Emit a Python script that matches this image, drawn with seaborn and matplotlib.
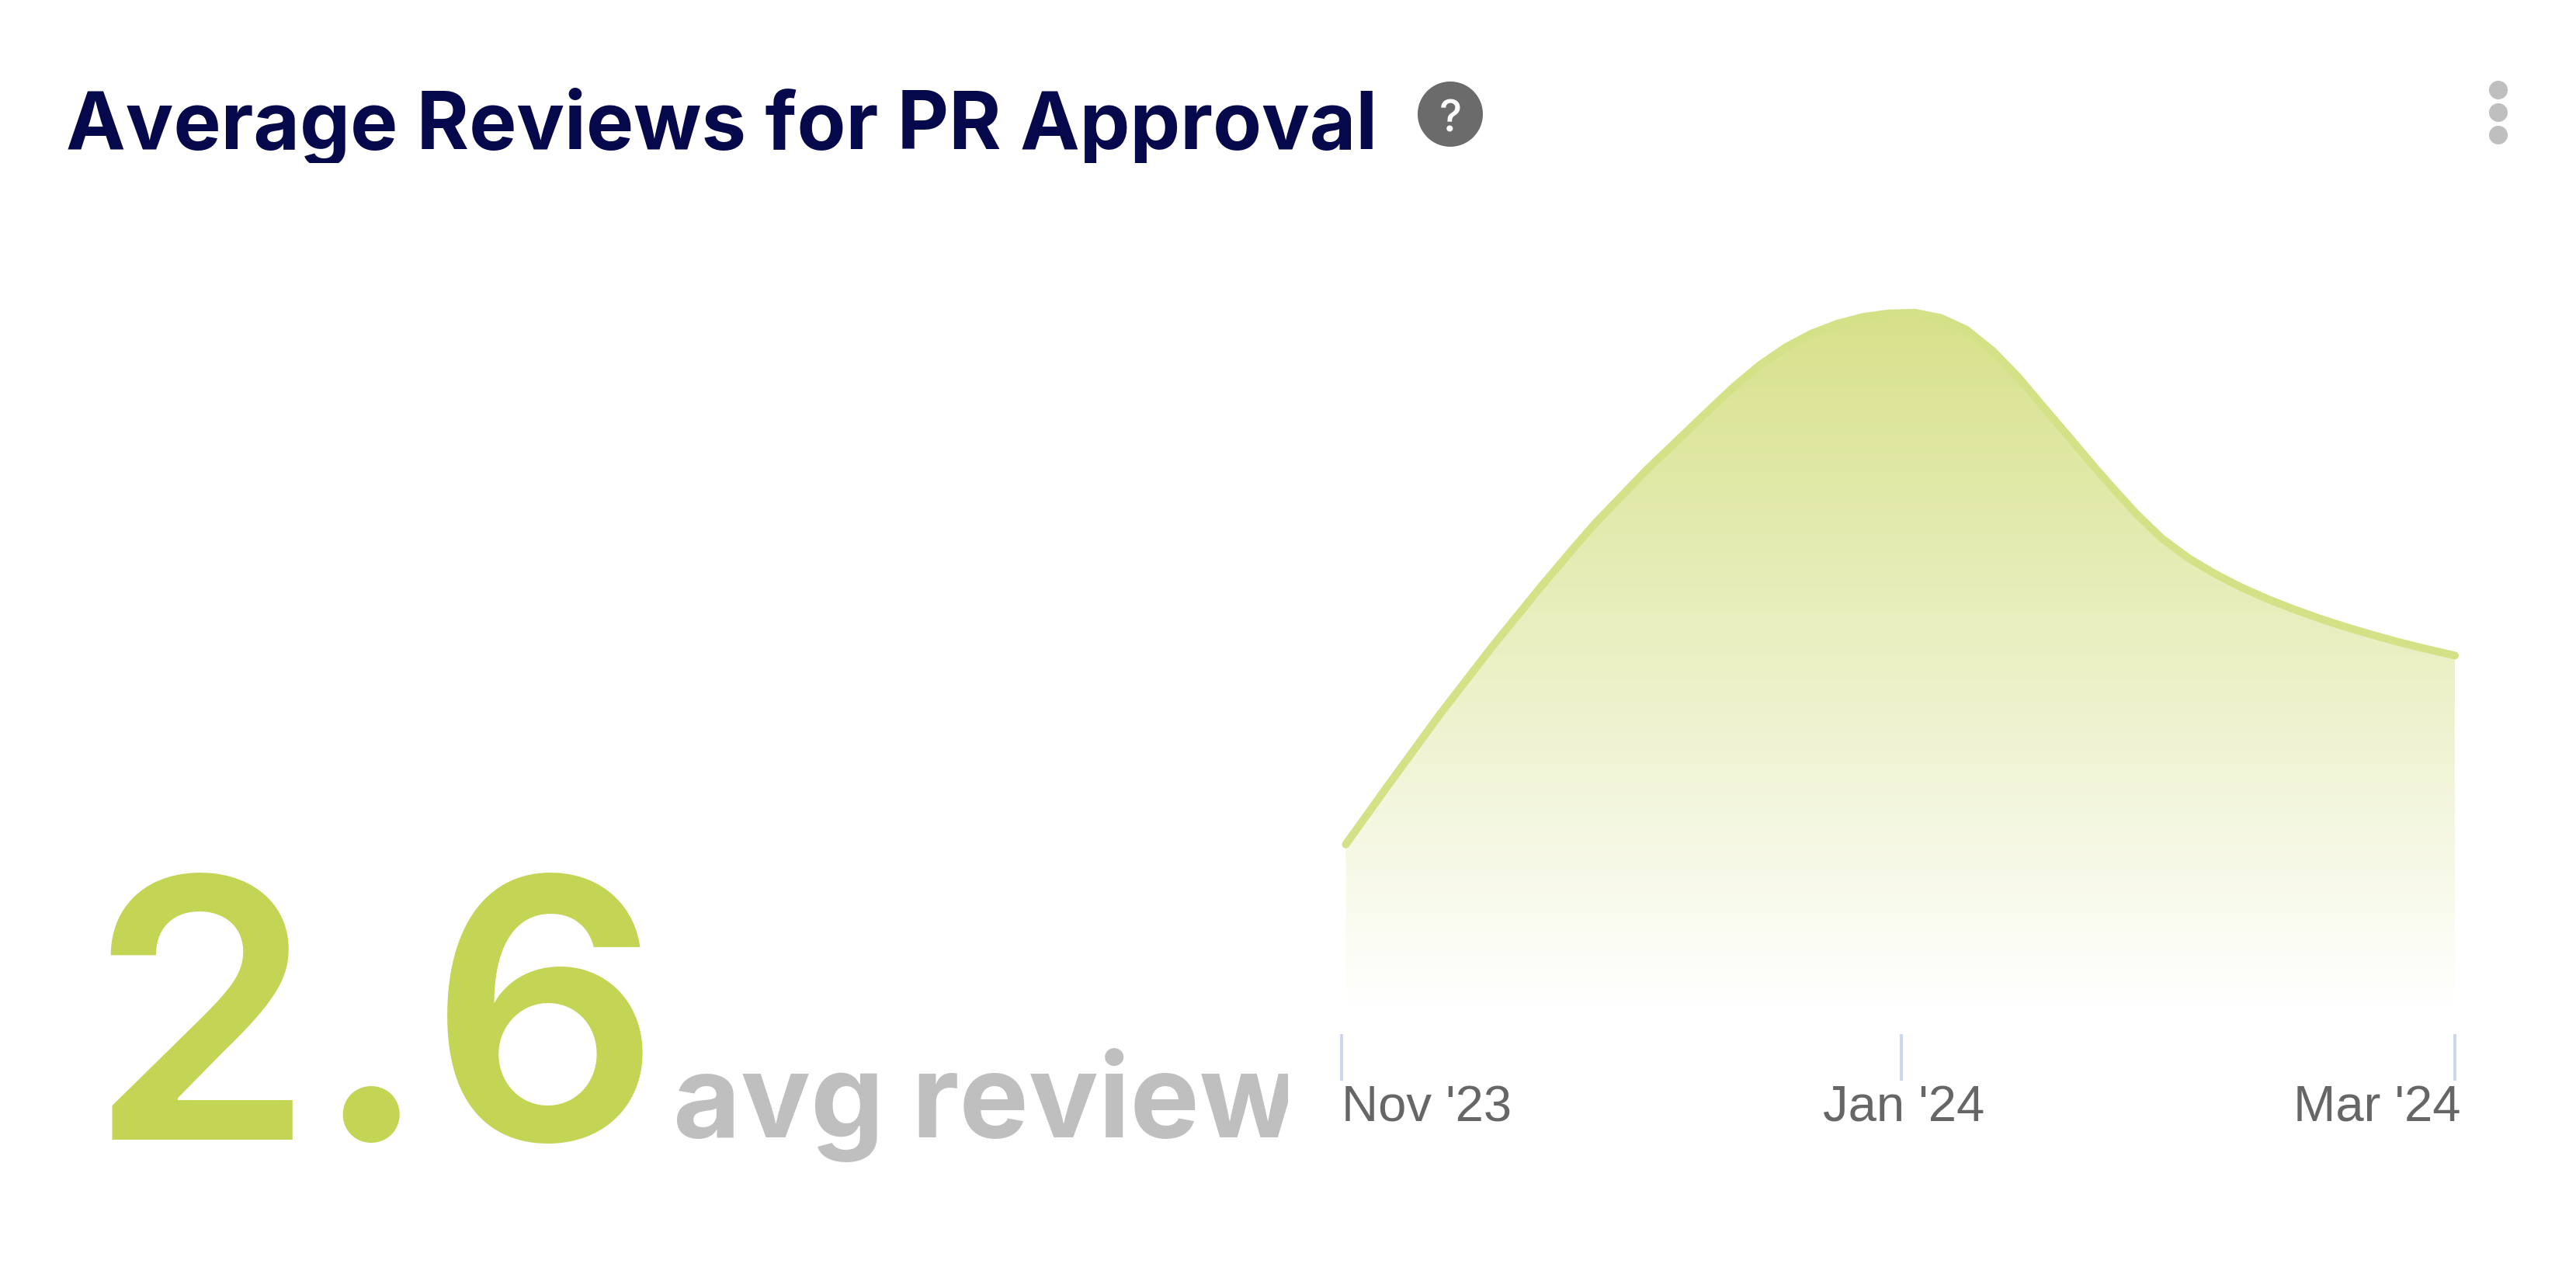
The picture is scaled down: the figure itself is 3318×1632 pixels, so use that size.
import numpy as np
import pandas as pd
import matplotlib
matplotlib.use('Agg')
import matplotlib.pyplot as plt
import seaborn as sns
from matplotlib.colors import LinearSegmentedColormap
from matplotlib.patches import Circle
from matplotlib.transforms import Bbox, ScaledTranslation

W, H = 3318, 1632

# months since Nov '23
months = [0.015, 0.165, 0.351, 0.538, 0.711, 0.826, 0.912, 1.099, 1.272, 1.317,
          1.409, 1.503, 1.596, 1.688, 1.783, 1.874, 1.966, 2.061, 2.153, 2.245,
          2.340, 2.432, 2.524, 2.619, 2.711, 2.762, 2.854, 2.948, 3.043, 3.138,
          3.230, 3.325, 3.420, 3.515, 3.609, 3.702, 3.796, 3.891, 4.000]
reviews = [0.799, 1.081, 1.425, 1.752, 2.039, 2.223, 2.356, 2.618, 2.841, 2.899,
           3.016, 3.122, 3.208, 3.274, 3.323, 3.355, 3.372, 3.375, 3.350, 3.293,
           3.190, 3.062, 2.915, 2.765, 2.618, 2.540, 2.403, 2.281, 2.186, 2.110,
           2.046, 1.989, 1.939, 1.893, 1.852, 1.815, 1.780, 1.748, 1.714]
tick_months = [0, 2.01, 4]
tick_labels = ["Nov '23", "Jan '24", "Mar '24"]
tick_align = ['left', 'center', 'right']
title = 'Average Reviews for PR Approval'
big_value = '2.6'
big_unit = 'avg review'

navy = '#05084A'
lime = '#C4D454'
line_color = '#D4E187'
grey = '#BFBFBF'

sns.set_theme(style='white')
plt.rcParams['font.family'] = ['Inter', 'DejaVu Sans']

fig = plt.figure(figsize=(W / 200, H / 200), dpi=200, facecolor='white')


def px_box(x0, y0, x1, y1):
    return Bbox.from_extents(x0, H - y1, x1, H - y0)


# chart area, in pixels: left 1728, right 3162, top 300, bottom 1392
ax = fig.add_axes([1728 / W, 1 - 1392 / H, (3162 - 1728) / W, (1392 - 300) / H])
ax.patch.set_alpha(0)

df = pd.DataFrame({'month': months, 'reviews': reviews})

# fill fading to white, drawn as an image clipped to the area under the curve
fade = LinearSegmentedColormap.from_list('fade', [(0.769, 0.831, 0.329, 0.0), (0.769, 0.831, 0.329, 0.68)])
area = ax.fill_between(df['month'], 0, df['reviews'], color='none', lw=0)
grad = ax.imshow(np.linspace(1, 0, 256).reshape(-1, 1), cmap=fade, vmin=0, vmax=1, aspect='auto',
                 extent=[months[0], months[-1], 0, max(reviews)], zorder=1)
grad.set_clip_path(area.get_paths()[0], transform=ax.transData)

sns.lineplot(data=df, x='month', y='reviews', ax=ax, color=line_color, lw=3.6, zorder=2,
             solid_capstyle='round', solid_joinstyle='round', clip_on=False, errorbar=None, sort=False)
ax.set_xlim(0, 4)
ax.set_ylim(-0.346, 3.762)

sns.despine(ax=ax, left=True, bottom=True, top=True, right=True)
ax.set_xlabel('')
ax.set_ylabel('')
ax.set_yticks([])
ax.set_xticks(tick_months)
ax.set_xticklabels(tick_labels, family=['Liberation Sans'], fontsize=23.5, color='#666666')
ax.tick_params(axis='x', direction='in', length=21.6, width=1.4, color='#CCD5EA', pad=2.0, bottom=True)
for lab, al, dx in zip(ax.get_xticklabels(), tick_align, [0, 4, 7]):
    lab.set_ha(al)
    lab.set_transform(lab.get_transform() + ScaledTranslation(dx / 200, 0, fig.dpi_scale_trans))

# header and big number
fig.text(85 / W, 1 - 192 / H, title, fontsize=37, fontweight='bold', color=navy, va='baseline',
         clip_on=True, clip_box=px_box(0, 0, W, 210))
fig.text(113 / W, 1 - 1468 / H, big_value, fontsize=168, fontweight='semibold', color=lime, va='baseline')
fig.text(867 / W, 1 - 1465 / H, big_unit, fontsize=54, fontweight='bold', color=grey, va='baseline',
         clip_on=True, clip_box=px_box(0, 0, 1659, H))

# help and menu icons, pixel overlay
ov = fig.add_axes([0, 0, 1, 1])
ov.set_xlim(0, W)
ov.set_ylim(H, 0)
ov.axis('off')
ov.patch.set_alpha(0)
ov.add_patch(Circle((1868, 147), 42, color='#6B6B6B', lw=0))
ov.text(1868, 170, '?', color='white', fontsize=20, fontweight='medium', ha='center', va='baseline')
for cy in [116, 145, 174]:
    ov.add_patch(Circle((3218, cy), 12, color=grey, lw=0))

fig.savefig('out.png', dpi=200, facecolor='white')
